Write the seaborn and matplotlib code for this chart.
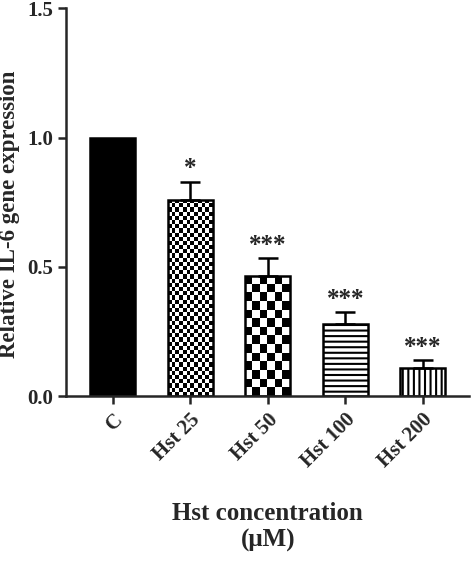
import numpy as np
import pandas as pd
import seaborn as sns
import matplotlib.pyplot as plt

categories = ["C", "Hst 25", "Hst 50", "Hst 100", "Hst 200"]
means = [1.0, 0.76, 0.465, 0.28, 0.11]
errors = [0.0, 0.07, 0.07, 0.045, 0.03]
stars = ["", "*", "***", "***", "***"]

sns.set_style("ticks")
plt.rcParams['font.family'] = ['Liberation Serif', 'DejaVu Serif']
plt.rcParams['font.weight'] = 'bold'
plt.rcParams['hatch.linewidth'] = 1.5

fig = plt.figure(figsize=(4.74, 5.62), dpi=100)
ax = fig.add_axes([0.14, 0.295, 0.85, 0.69])
df = pd.DataFrame({"cat": categories, "val": means})
sns.barplot(data=df, x="cat", y="val", ax=ax, color="white", edgecolor="black",
            linewidth=1.8, width=0.58, errorbar=None)

patches = ax.patches
patches[0].set_facecolor("black")
checker = {1: 12, 2: 6}
for i, n in checker.items():
    p = patches[i]
    x0, w, h = p.get_x(), p.get_width(), p.get_height()
    nrow = max(1, int(round(n * h / w * 3)))
    img = (np.add.outer(np.arange(nrow), np.arange(n)) % 2)
    im = ax.imshow(img, cmap="gray", extent=[x0, x0 + w, 0, h], aspect="auto",
                   interpolation="nearest", zorder=p.get_zorder() - 0.1)
    im.set_clip_path(p)
    p.set_facecolor("none")
    p.set_zorder(p.get_zorder() + 0.2)
patches[3].set_hatch("---")
patches[4].set_hatch("|||")

for i, p in enumerate(patches):
    xc = p.get_x() + p.get_width() / 2
    if errors[i] > 0:
        ax.errorbar(xc, means[i], yerr=[[0], [errors[i]]], color="black",
                    capsize=7, capthick=1.8, elinewidth=1.8, zorder=5)
    if stars[i]:
        ax.text(xc, means[i] + errors[i] + 0.005, stars[i], ha="center", va="bottom",
                fontsize=18, fontweight="bold")

ax.set_xlim(-0.6, 4.6)
ax.set_ylim(0, 1.5)
ax.set_yticks([0, 0.5, 1.0, 1.5])
ax.set_yticklabels(["0.0", "0.5", "1.0", "1.5"], fontsize=15, fontweight="bold")
ax.set_xticks(range(5))
ax.set_xticklabels(categories, rotation=45, ha="right", rotation_mode="anchor",
                   fontsize=15, fontweight="bold")
ax.set_xlabel("Hst concentration\n(μM)", fontsize=18, fontweight="bold", labelpad=22)
ax.set_ylabel("Relative IL-6 gene expression", fontsize=16.5, fontweight="bold", labelpad=2)
ax.yaxis.set_label_coords(-0.115, 0.47)
sns.despine(ax=ax)
for s in ["left", "bottom"]:
    ax.spines[s].set_linewidth(1.8)
ax.tick_params(width=1.8, length=6)
fig.savefig("out.png", dpi=100)
